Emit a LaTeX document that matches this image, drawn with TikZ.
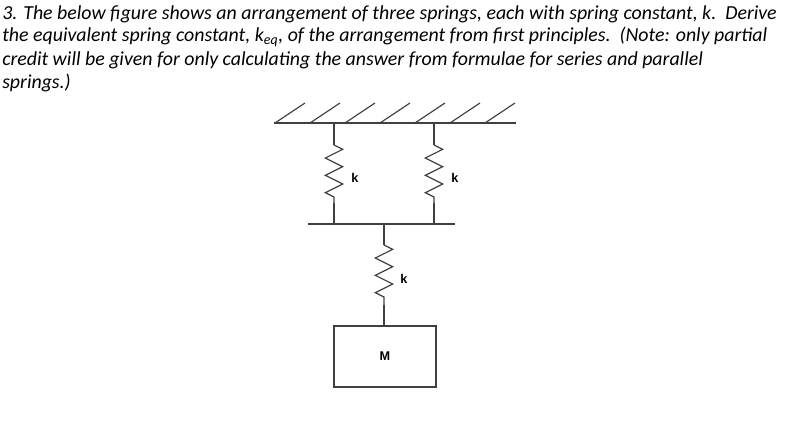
\documentclass[tikz,border=0pt]{standalone}
\usepackage{fontspec}
\setmainfont{Carlito}
\setsansfont{Liberation Sans}
\usetikzlibrary{decorations.pathmorphing}
\begin{document}
\begin{tikzpicture}[x=0.75pt,y=-0.75pt,
  ln/.style={draw=black!75,line width=0.9pt},
  spr/.style={ln,decorate,decoration={zigzag,amplitude=6.5pt,segment length=13pt}},
  qtext/.style={anchor=west,inner sep=0pt,font=\itshape\fontsize{14.9}{16}\selectfont},
  lab/.style={font=\sffamily\bfseries\fontsize{9.5}{10}\selectfont,inner sep=0pt}]
\useasboundingbox (0,0) rectangle (786,440);
\node[qtext] (t1) at (2,14) {3. The below figure shows an arrangement of three springs, each with spring constant, k.\ \ Derive};
\node[qtext] (t2) at (2,37) {the equivalent spring constant, k\textsubscript{eq}, of the arrangement from first principles.\ \ (Note: only partial};
\node[qtext] (t3) at (2,60) {credit will be given for only calculating the answer from formulae for series and parallel};
\node[qtext] (t4) at (2,83) {springs.)};
% ceiling
\coordinate (cL) at (274,123); \coordinate (cR) at (516,123);
\draw[ln] (cL) -- (cR);
\foreach \i in {0,...,6}{\draw[ln] (275+35*\i,123) -- ++(30,-20);}
% left spring
\coordinate (a1) at (334,123); \coordinate (a2) at (334,145); \coordinate (a3) at (334,203); \coordinate (a4) at (334,224);
\draw[ln] (a1)--(a2); \draw[spr] (a2)--(a3); \draw[ln] (a3)--(a4);
\node[lab] (k1) at (355,178) {k};
% right spring
\coordinate (b1) at (434,123); \coordinate (b2) at (434,145); \coordinate (b3) at (434,203); \coordinate (b4) at (434,224);
\draw[ln] (b1)--(b2); \draw[spr] (b2)--(b3); \draw[ln] (b3)--(b4);
\node[lab] (k2) at (455,178) {k};
% bar
\coordinate (bL) at (308,224); \coordinate (bR) at (455,224);
\draw[ln] (bL)--(bR);
% lower spring
\coordinate (c1) at (384,224); \coordinate (c2) at (384,245); \coordinate (c3) at (384,305); \coordinate (c4) at (384,326);
\draw[ln] (c1)--(c2); \draw[spr] (c2)--(c3); \draw[ln] (c3)--(c4);
\node[lab] (k3) at (404,279) {k};
% mass
\draw[ln] (334,326) rectangle (436,387);
\node[lab] (m) at (385,356) {M};
\end{tikzpicture}
\end{document}
